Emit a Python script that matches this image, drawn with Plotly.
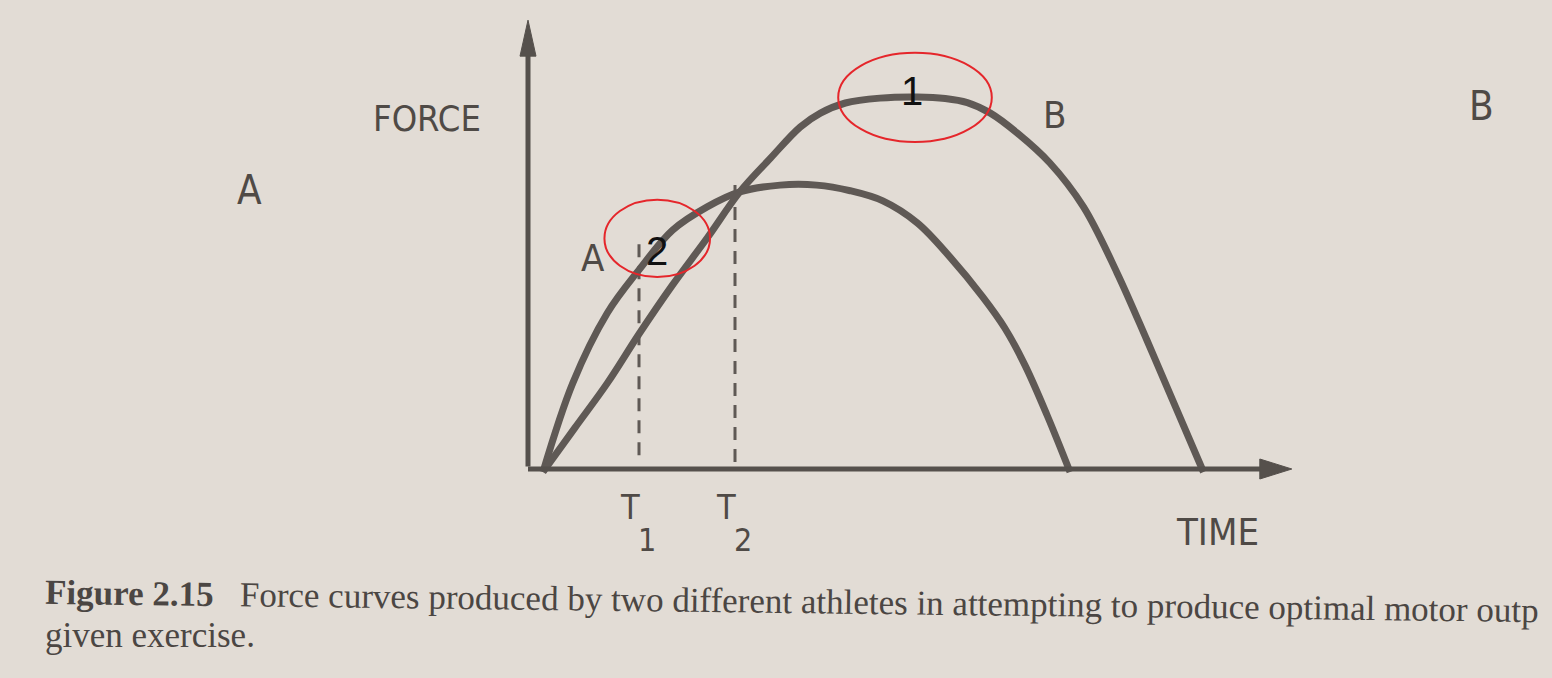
import plotly.graph_objects as go

# drawing scale: pixels per unit of time / force (only used for decorations)
PX_T = 96
PX_F = 3.75

# athlete A: fast rise, lower peak
time_a = [0, 0.31, 0.67, 1.0, 1.35, 1.71, 2.05, 2.47, 2.85, 3.2, 3.54, 3.9, 4.24, 4.58, 4.81, 5.02, 5.25, 5.49]
force_a = [0, 23.7, 42.4, 53.9, 64.5, 70.7, 74.7, 76.5, 76.5, 75.0, 72.3, 66.4, 57.3, 46.7, 38.4, 28.5, 15.2, 0]

# athlete B: slower rise, higher peak
time_b = [0, 0.33, 0.67, 1.0, 1.35, 1.71, 2.05, 2.37, 2.68, 2.89, 3.15, 3.51, 3.9, 4.19, 4.42, 4.66, 4.94, 5.28, 5.63, 5.98, 6.29, 6.59, 6.88]
force_b = [0, 11.7, 23.7, 36.8, 49.9, 62.4, 74.7, 83.7, 92.0, 95.7, 98.4, 99.7, 100, 99.6, 98.5, 95.7, 90.4, 82.4, 70.7, 53.1, 35.2, 17.3, 0]

# T1 / T2 markers
tick_times = [1.0, 2.0]
tick_subs = ['1', '2']
dash_top = [61.3, 77.9]
dash_bottom = [4.5, 2.7]

INK = '#5f5955'
AXIS = '#55504c'
TEXT = '#4f4a46'
RED = '#e5262b'
BG = '#e2dcd5'
SANS = 'Liberation Sans Narrow, DejaVu Sans Condensed, Liberation Sans, sans-serif'
SERIF = 'Liberation Serif, Times New Roman, serif'

fig = go.Figure()

# dashed guides at T1, T2
for t, top, bot in zip(tick_times, dash_top, dash_bottom):
    fig.add_trace(go.Scatter(x=[t, t], y=[bot, top], mode='lines',
                             line=dict(color=INK, width=3, dash='13px,9px'),
                             hoverinfo='skip'))

fig.add_trace(go.Scatter(x=time_a, y=force_a, mode='lines', name='A',
                         line=dict(color=INK, width=7, shape='spline', smoothing=1.0)))
fig.add_trace(go.Scatter(x=time_b, y=force_b, mode='lines', name='B',
                         line=dict(color=INK, width=7, shape='spline', smoothing=1.0)))

# axes with arrowheads
y_axis_t = -15 / PX_T
x_tip = 7.8
y_tip = 120.5
fig.add_shape(type='line', x0=y_axis_t, x1=y_axis_t, y0=1.5, y1=y_tip - 30 / PX_F,
              line=dict(color=AXIS, width=5))
fig.add_shape(type='line', x0=y_axis_t, x1=x_tip - 28 / PX_T, y0=0.8, y1=0.8,
              line=dict(color=AXIS, width=5))
hw, hl = 8 / PX_T, 36 / PX_F
fig.add_shape(type='path', fillcolor=AXIS, line=dict(color=AXIS, width=1),
              path=f'M {y_axis_t},{y_tip} L {y_axis_t - hw},{y_tip - hl} L {y_axis_t + hw},{y_tip - hl} Z')
hl, hw = 32 / PX_T, 10 / PX_F
fig.add_shape(type='path', fillcolor=AXIS, line=dict(color=AXIS, width=1),
              path=f'M {x_tip},0.8 L {x_tip - hl},{0.8 + hw} L {x_tip - hl},{0.8 - hw} Z')

# red highlight ellipses
fig.add_shape(type='circle', x0=3.875 - 0.80, x1=3.875 + 0.80, y0=99.9 - 11.9, y1=99.9 + 11.9,
              line=dict(color=RED, width=2))
fig.add_shape(type='circle', x0=1.19 - 0.55, x1=1.19 + 0.55, y0=62.3 - 10.3, y1=62.3 + 10.3,
              line=dict(color=RED, width=2))


def label(x, y, text, size, color=TEXT, family=SANS, **kw):
    fig.add_annotation(x=x, y=y, text=text, showarrow=False,
                       font=dict(size=size, color=color, family=family), **kw)


label(-1.21, 94.4, 'FORCE', 36)
label(7.03, -16, 'TIME', 38)
for t, s in zip(tick_times, tick_subs):
    label(t - 0.09, -9.3, 'T', 34)
    label(t + 0.08, -18.0, s, 32)
label(0.52, 57, 'A', 38)
label(5.33, 95.2, 'B', 38)
label(-3.06, 75.2, 'A', 40)
label(9.78, 97.6, 'B', 40)
label(3.84, 101.6, '1', 40, color='#111111', family='Liberation Sans, Arial, sans-serif')
label(1.19, 58.9, '2', 40, color='#111111', family='Liberation Sans, Arial, sans-serif')

# caption (the photo cuts the first line at the right edge)
label(-5.21, -34.6,
      '<b>Figure 2.15</b>\u00a0\u00a0 Force curves produced by two different athletes in attempting to produce optimal motor outp',
      35, color='#4b4643', family=SERIF, xanchor='left', textangle=0.7)
label(-5.21, -43.5, 'given exercise.', 35, color='#4b4643', family=SERIF, xanchor='left')

fig.update_layout(
    width=1552, height=678,
    margin=dict(l=0, r=0, t=0, b=0),
    paper_bgcolor=BG, plot_bgcolor=BG,
    showlegend=False,
    xaxis=dict(visible=False, range=[-543 / PX_T, (1552 - 543) / PX_T]),
    yaxis=dict(visible=False, range=[(472 - 678) / PX_F, 472 / PX_F]),
)

fig.write_html("out.html", config={'displayModeBar': False},
               post_script="document.body.style.margin='0';")
